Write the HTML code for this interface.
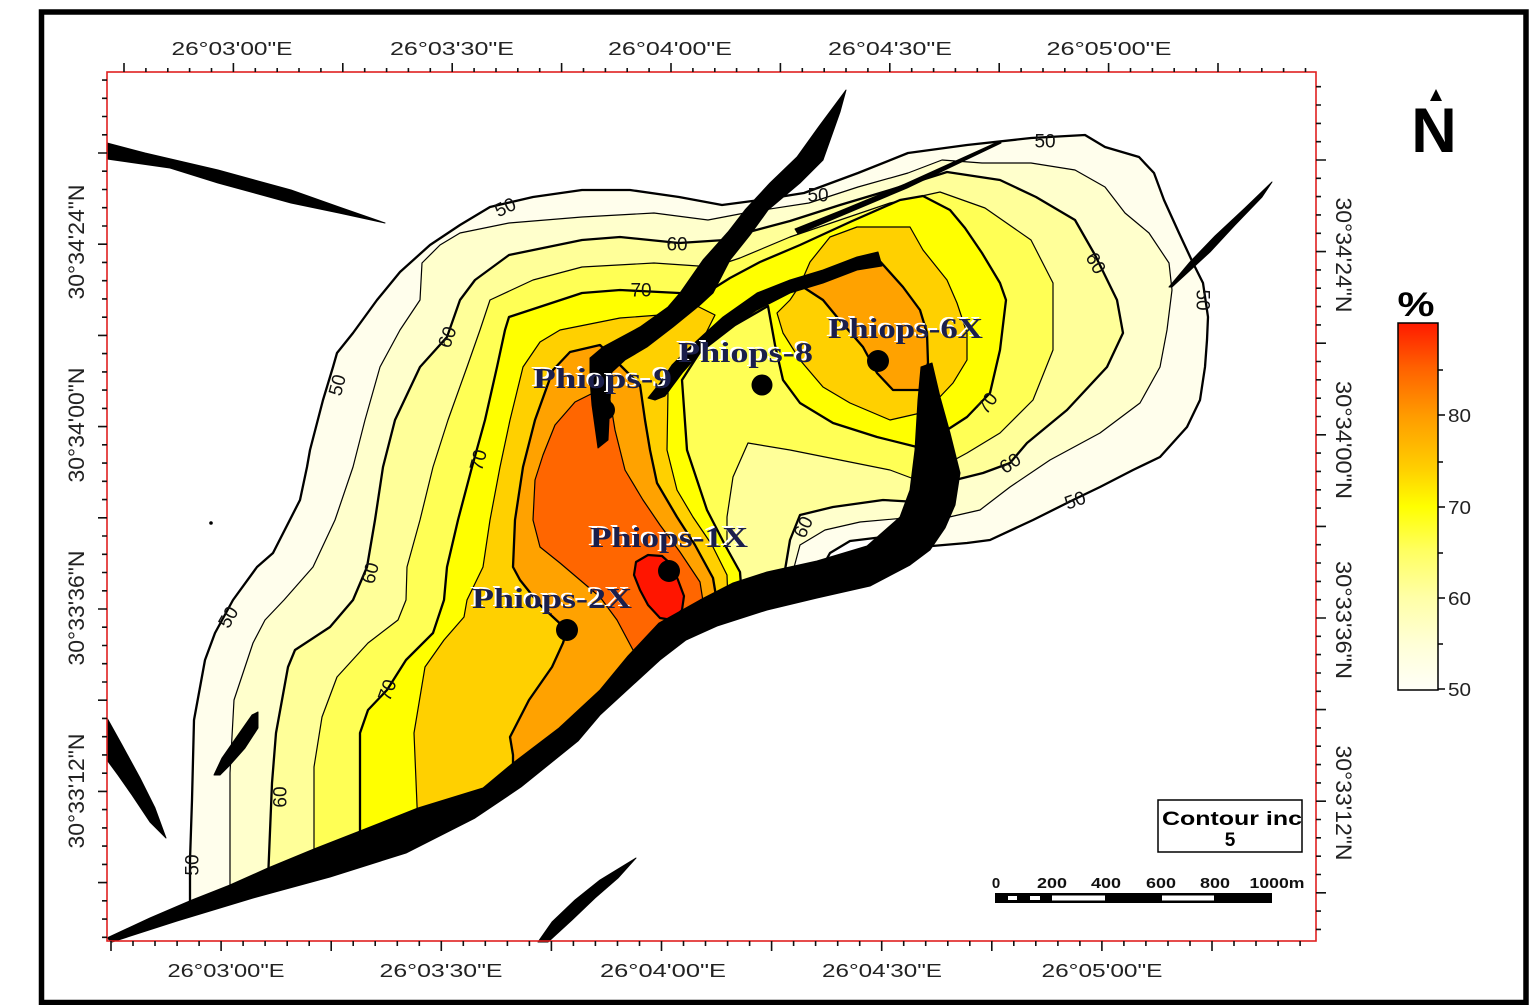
<!DOCTYPE html>
<html><head><meta charset="utf-8"><style>
html,body{margin:0;padding:0;background:#fff;}
svg{display:block;}
</style></head><body>
<svg width="1533" height="1005" viewBox="0 0 1533 1005" xmlns="http://www.w3.org/2000/svg">
<defs>
<linearGradient id="cb" x1="0" y1="0" x2="0" y2="1">
<stop offset="0" stop-color="#ff1a00"/><stop offset="0.12" stop-color="#ff6000"/><stop offset="0.25" stop-color="#ff9a00"/><stop offset="0.4" stop-color="#ffd000"/><stop offset="0.5" stop-color="#ffff00"/><stop offset="0.62" stop-color="#ffff60"/><stop offset="0.75" stop-color="#ffffa8"/><stop offset="0.88" stop-color="#ffffd8"/><stop offset="1" stop-color="#fffff8"/>
</linearGradient>
</defs>
<rect width="1533" height="1005" fill="#fff"/>
<rect x="41.5" y="12" width="1484.5" height="990.5" fill="none" stroke="#000" stroke-width="5.5"/>

<!-- contour fills -->
<g stroke="#000" stroke-linejoin="round">
<polygon fill="#fffeec" stroke-width="2.3" points="190,907 190,860 192,800 194,720 205,660 215,633 233,600 257,567 273,553 300,500 307,467 310,450 323,400 333,367 337,353 353,333 377,300 400,272 430,245 460,225 490,207 533,197 582,190 630,190 679,197 722,205 760,200 804,193 858,173 908,153 967,145 1031,138 1085,135 1105,147 1139,157 1154,173 1164,200 1179,233 1193,263 1203,283 1208,317 1207,340 1205,367 1200,400 1187,427 1160,457 1133,470 1100,487 1073,500 1033,520 990,540 967,543 932,546 935,533 883,537 850,541 830,553 818,575 815,585 785,590 760,595 735,602 710,612 690,622 665,640 645,660 620,685 595,712 570,735 540,760 510,782 475,805 430,825 390,840 340,857 290,873 250,887 215,898"/>
<polygon fill="#ffffcc" stroke-width="1.2" points="230,893 230,773 234,700 245,667 253,643 265,620 284,600 313,567 335,520 353,467 365,420 380,367 400,330 420,300 422,263 440,245 460,233 509,223 582,217 654,213 708,220 750,212 809,203 858,187 908,173 942,160 982,163 1031,163 1075,170 1105,187 1125,213 1149,233 1169,263 1172,290 1167,330 1160,367 1140,403 1100,433 1050,460 1010,487 980,510 945,518 905,518 860,522 825,530 800,545 792,575 790,589 760,595 735,602 710,612 690,622 665,640 645,660 620,685 595,712 570,735 540,760 510,782 475,805 430,825 390,840 340,857 290,873 250,887"/>
<polygon fill="#ffff99" stroke-width="2.3" points="268,880 272,783 276,733 288,667 295,650 330,627 353,600 367,567 375,520 383,467 395,420 420,367 447,337 460,300 475,280 509,255 582,240 620,237 679,243 725,240 745,233 790,221 840,205 890,190 947,172 1000,180 1036,197 1075,220 1095,255 1117,300 1123,333 1107,367 1067,410 1027,443 1010,463 983,473 955,480 935,503 883,500 833,507 800,515 790,540 785,570 783,591 760,595 735,602 710,612 690,622 665,640 645,660 620,685 595,712 570,735 540,760 510,782 475,805 430,825 390,840 340,857 290,873"/>
<polygon fill="#ffff55" stroke-width="1.2" points="314,865 314,767 322,717 337,677 368,643 398,620 406,600 407,567 420,520 433,467 448,420 467,367 480,330 490,300 533,280 582,267 654,263 713,267 740,258 790,237 840,220 890,203 940,192 985,208 1031,240 1053,283 1053,350 1033,400 1000,433 967,453 945,465 930,485 890,470 840,460 790,450 748,443 733,477 727,517 727,550 733,600 710,612 690,622 665,640 645,660 620,685 595,712 570,735 540,760 510,782 475,805 430,825 390,840 340,857"/>
<polygon fill="#ffff00" stroke-width="2.3" points="360,849 360,733 368,710 387,690 406,660 433,633 444,600 447,567 458,520 472,467 485,420 497,367 505,330 509,317 582,293 620,290 679,293 703,295 730,278 760,262 800,245 850,222 900,200 923,196 950,210 965,228 982,253 1000,283 1006,300 1000,350 990,393 967,417 947,430 925,442 917,447 877,437 833,423 800,403 783,380 775,345 768,306 735,325 700,352 682,380 687,450 707,510 725,545 740,572 742,598 735,602 710,612 690,622 665,640 645,660 620,685 595,712 570,735 540,760 510,782 475,805 430,825 390,840"/>
<polygon fill="#ffd000" stroke-width="1.2" points="418,829 414,733 425,667 444,640 464,617 467,600 483,567 490,520 500,467 510,420 523,367 540,342 560,330 620,318 660,315 695,305 715,315 700,345 668,392 667,450 677,490 693,517 712,545 727,575 728,604 710,612 690,622 665,640 645,660 620,685 595,712 570,735 540,760 510,782 475,805 430,825"/>
<polygon fill="#ffd000" stroke-width="1.2" points="777,313 790,300 800,285 810,262 830,237 857,227 910,227 923,250 947,280 957,303 967,333 967,360 953,383 937,400 925,412 890,420 850,403 823,387 800,360 783,333"/>
<polygon fill="#ffa200" stroke-width="2.3" points="513,772 513,755 510,737 529,700 552,667 563,643 567,630 540,605 520,580 513,567 515,520 523,467 535,420 553,370 570,352 600,345 625,370 640,385 645,420 650,450 657,483 677,517 695,545 713,578 718,608 710,612 690,622 665,640 645,660 620,685 595,712 570,735 540,760"/>
<polygon fill="#ffa200" stroke-width="2.3" points="800,285 820,278 850,268 877,258 903,287 920,310 927,333 928,363 920,390 893,390 877,373 863,347 837,317 823,300"/>
<polygon fill="#ff6600" stroke-width="1.2" points="638,668 633,650 617,620 600,597 580,580 560,563 540,547 533,520 535,480 543,455 555,425 575,402 595,392 610,400 615,430 625,470 643,500 660,525 680,552 700,582 705,614 690,622 665,640 645,660"/>
<polygon fill="#ff1500" stroke-width="2.2" points="636,562 648,555 662,556 672,565 678,580 684,596 682,610 672,620 660,618 648,605 640,590 634,575"/>
</g>

<!-- faults -->
<g fill="#000" stroke="#000" stroke-width="1" stroke-linejoin="round">
<polygon points="107,938 150,918 192,900 230,885 268,868 314,849 360,831 418,808 483,788 513,763 559,728 600,690 628,656 659,623 700,600 733,583 767,572 817,561 867,546 900,517 910,490 915,450 918,400 921,367 932,363 940,397 950,433 960,473 955,505 945,528 930,550 910,565 870,586 817,598 767,610 717,626 686,640 660,660 636,682 600,715 578,741 521,787 475,818 406,853 330,877 253,898 177,921 112,942"/>
<polygon points="590,358 603,347 640,327 668,307 680,293 703,260 728,232 745,210 770,183 797,157 820,125 846,90 840,112 823,160 800,183 768,210 750,235 730,260 713,293 700,305 673,327 647,347 625,360 612,372 610,400 608,440 598,448 592,405 590,380"/>
<polygon points="648,398 660,383 672,365 690,347 723,317 757,293 790,280 823,270 857,257 878,252 882,266 857,270 823,283 790,293 757,310 723,333 700,353 683,372 665,396 655,400"/>
<polygon points="795,229 840,211 905,184 1000,141 1001,143 907,188 843,215 798,234"/>
<polygon points="107,143 145,153 218,170 291,190 339,207 385,223 339,213 291,203 218,183 170,168 107,159"/>
<polygon points="1169,287 1190,262 1215,236 1245,208 1272,182 1262,197 1235,225 1210,252 1185,275 1172,287"/>
<polygon points="214,775 222,758 238,735 252,715 258,712 258,728 245,748 230,765 220,775"/>
<polygon points="107,718 122,745 140,778 155,808 166,838 150,822 132,795 118,775 107,760"/>
<polygon points="538,942 552,922 575,900 600,880 636,858 618,878 595,898 572,920 548,942"/>
</g>
<circle cx="211" cy="523" r="1.8" fill="#000"/>

<!-- wells -->
<g fill="#000">
<circle cx="605" cy="410" r="10"/>
<circle cx="762" cy="385" r="10.5"/>
<circle cx="878" cy="361" r="11"/>
<circle cx="669" cy="571" r="11"/>
<circle cx="567" cy="630" r="11"/>
</g>

<!-- contour labels -->
<g font-family="Liberation Sans, sans-serif" font-size="19" fill="#111" text-anchor="middle">
<text transform="translate(505,207) rotate(-25)" dy="0.35em">50</text>
<text transform="translate(677,244)" dy="0.35em">60</text>
<text transform="translate(641,290)" dy="0.35em">70</text>
<text transform="translate(818,195)" dy="0.35em">50</text>
<text transform="translate(1045,141)" dy="0.35em">50</text>
<text transform="translate(1096,263) rotate(60)" dy="0.35em">60</text>
<text transform="translate(1203,300) rotate(90)" dy="0.35em">50</text>
<text transform="translate(987,403) rotate(-55)" dy="0.35em">70</text>
<text transform="translate(1010,463) rotate(-35)" dy="0.35em">60</text>
<text transform="translate(1075,500) rotate(-20)" dy="0.35em">50</text>
<text transform="translate(803,527) rotate(-65)" dy="0.35em">60</text>
<text transform="translate(478,460) rotate(-75)" dy="0.35em">70</text>
<text transform="translate(447,337) rotate(-70)" dy="0.35em">60</text>
<text transform="translate(337,385) rotate(-75)" dy="0.35em">50</text>
<text transform="translate(370,573) rotate(-75)" dy="0.35em">60</text>
<text transform="translate(228,617) rotate(-60)" dy="0.35em">50</text>
<text transform="translate(387,690) rotate(-70)" dy="0.35em">70</text>
<text transform="translate(280,797) rotate(-90)" dy="0.35em">60</text>
<text transform="translate(192,865) rotate(-90)" dy="0.35em">50</text>
</g>

<!-- well labels -->
<g font-family="Liberation Serif, serif" font-weight="bold" font-size="29">
<g fill="#ffffff">
<text x="531" y="386" textLength="139" lengthAdjust="spacingAndGlyphs">Phiops-9</text>
<text x="676" y="360" textLength="135" lengthAdjust="spacingAndGlyphs">Phiops-8</text>
<text x="826" y="336" textLength="155" lengthAdjust="spacingAndGlyphs">Phiops-6X</text>
<text x="588" y="545" textLength="158" lengthAdjust="spacingAndGlyphs">Phiops-1X</text>
<text x="470" y="606" textLength="160" lengthAdjust="spacingAndGlyphs">Phiops-2X</text>
</g>
<g fill="#1b1f4b">
<text x="533" y="388" textLength="139" lengthAdjust="spacingAndGlyphs">Phiops-9</text>
<text x="678" y="362" textLength="135" lengthAdjust="spacingAndGlyphs">Phiops-8</text>
<text x="828" y="338" textLength="155" lengthAdjust="spacingAndGlyphs">Phiops-6X</text>
<text x="590" y="547" textLength="158" lengthAdjust="spacingAndGlyphs">Phiops-1X</text>
<text x="472" y="608" textLength="160" lengthAdjust="spacingAndGlyphs">Phiops-2X</text>
</g>
</g>

<!-- plot frame and ticks -->
<rect x="107" y="72" width="1209" height="869" fill="none" stroke="#e02020" stroke-width="1.6"/>
<g stroke="#111" stroke-width="1.6">
<path d="M124 63V72M233.4 63V72M342.8 63V72M452.2 63V72M561.6 63V72M671 63V72M780.4 63V72M889.8 63V72M999.2 63V72M1108.6 63V72M1218 63V72"/>
<path d="M145.9 68V72M167.8 68V72M189.6 68V72M211.5 68V72M255.3 68V72M277.2 68V72M299 68V72M320.9 68V72M364.7 68V72M386.6 68V72M408.4 68V72M430.3 68V72M474.1 68V72M496 68V72M517.8 68V72M539.7 68V72M583.5 68V72M605.4 68V72M627.2 68V72M649.1 68V72M692.9 68V72M714.8 68V72M736.6 68V72M758.5 68V72M802.3 68V72M824.2 68V72M846 68V72M867.9 68V72M911.7 68V72M933.6 68V72M955.4 68V72M977.3 68V72M1021.1 68V72M1043 68V72M1064.8 68V72M1086.7 68V72M1130.5 68V72M1152.4 68V72M1174.2 68V72M1196.1 68V72M1239.9 68V72M1261.8 68V72M1283.6 68V72M1305.5 68V72"/>
<path d="M111 941V951M221.1 941V951M331.2 941V951M441.3 941V951M551.4 941V951M661.5 941V951M771.6 941V951M881.7 941V951M991.8 941V951M1101.9 941V951M1212 941V951"/>
<path d="M133 941V946M155 941V946M177.1 941V946M199.1 941V946M243.1 941V946M265.1 941V946M287.2 941V946M309.2 941V946M353.2 941V946M375.2 941V946M397.3 941V946M419.3 941V946M463.3 941V946M485.3 941V946M507.4 941V946M529.4 941V946M573.4 941V946M595.4 941V946M617.5 941V946M639.5 941V946M683.5 941V946M705.5 941V946M727.6 941V946M749.6 941V946M793.6 941V946M815.6 941V946M837.7 941V946M859.7 941V946M903.7 941V946M925.7 941V946M947.8 941V946M969.8 941V946M1013.8 941V946M1035.8 941V946M1057.9 941V946M1079.9 941V946M1123.9 941V946M1145.9 941V946M1168 941V946M1190 941V946M1234 941V946M1256 941V946M1278.1 941V946M1300.1 941V946"/>
<path d="M98 153H107M98 244.2H107M98 335.4H107M98 426.6H107M98 517.8H107M98 609H107M98 700.2H107M98 791.4H107M98 882.6H107"/>
<path d="M102 80.1H107M102 98.3H107M102 116.5H107M102 134.8H107M102 171.2H107M102 189.5H107M102 207.7H107M102 226H107M102 262.4H107M102 280.7H107M102 298.9H107M102 317.2H107M102 353.6H107M102 371.9H107M102 390.1H107M102 408.4H107M102 444.8H107M102 463.1H107M102 481.3H107M102 499.6H107M102 536H107M102 554.3H107M102 572.5H107M102 590.8H107M102 627.2H107M102 645.5H107M102 663.7H107M102 682H107M102 718.4H107M102 736.7H107M102 754.9H107M102 773.2H107M102 809.6H107M102 827.9H107M102 846.1H107M102 864.4H107M102 900.8H107M102 919.1H107M102 937.3H107"/>
<path d="M1316 160H1326M1316 251.6H1326M1316 343.2H1326M1316 434.8H1326M1316 526.4H1326M1316 618H1326M1316 709.6H1326M1316 801.2H1326M1316 892.8H1326"/>
<path d="M1316 86.7H1321M1316 105H1321M1316 123.4H1321M1316 141.7H1321M1316 178.3H1321M1316 196.6H1321M1316 214.9H1321M1316 233.3H1321M1316 269.9H1321M1316 288.2H1321M1316 306.6H1321M1316 324.9H1321M1316 361.5H1321M1316 379.8H1321M1316 398.2H1321M1316 416.5H1321M1316 453.1H1321M1316 471.4H1321M1316 489.8H1321M1316 508.1H1321M1316 544.7H1321M1316 563H1321M1316 581.4H1321M1316 599.7H1321M1316 636.3H1321M1316 654.6H1321M1316 673H1321M1316 691.3H1321M1316 727.9H1321M1316 746.2H1321M1316 764.6H1321M1316 782.9H1321M1316 819.5H1321M1316 837.8H1321M1316 856.2H1321M1316 874.5H1321M1316 911.1H1321M1316 929.4H1321"/>
</g>

<!-- axis labels -->
<g font-family="Liberation Sans, sans-serif" font-size="18" fill="#222" text-anchor="middle">
<text x="232" y="55" textLength="121" lengthAdjust="spacingAndGlyphs">26°03'00"E</text>
<text x="452" y="55" textLength="124" lengthAdjust="spacingAndGlyphs">26°03'30"E</text>
<text x="670" y="55" textLength="124" lengthAdjust="spacingAndGlyphs">26°04'00"E</text>
<text x="890" y="55" textLength="124" lengthAdjust="spacingAndGlyphs">26°04'30"E</text>
<text x="1109" y="55" textLength="125" lengthAdjust="spacingAndGlyphs">26°05'00"E</text>
<text x="226" y="977" textLength="117" lengthAdjust="spacingAndGlyphs">26°03'00"E</text>
<text x="441" y="977" textLength="123" lengthAdjust="spacingAndGlyphs">26°03'30"E</text>
<text x="663" y="977" textLength="126" lengthAdjust="spacingAndGlyphs">26°04'00"E</text>
<text x="882" y="977" textLength="120" lengthAdjust="spacingAndGlyphs">26°04'30"E</text>
<text x="1102" y="977" textLength="121" lengthAdjust="spacingAndGlyphs">26°05'00"E</text>
</g>
<g font-family="Liberation Sans, sans-serif" font-size="22" fill="#222" text-anchor="middle">
<text transform="translate(84,242) rotate(-90)" textLength="115" lengthAdjust="spacingAndGlyphs">30°34'24"N</text>
<text transform="translate(84,425) rotate(-90)" textLength="115" lengthAdjust="spacingAndGlyphs">30°34'00"N</text>
<text transform="translate(84,608) rotate(-90)" textLength="115" lengthAdjust="spacingAndGlyphs">30°33'36"N</text>
<text transform="translate(84,791) rotate(-90)" textLength="115" lengthAdjust="spacingAndGlyphs">30°33'12"N</text>
<text transform="translate(1336,255) rotate(90)" textLength="115" lengthAdjust="spacingAndGlyphs">30°34'24"N</text>
<text transform="translate(1336,440) rotate(90)" textLength="118" lengthAdjust="spacingAndGlyphs">30°34'00"N</text>
<text transform="translate(1336,620) rotate(90)" textLength="118" lengthAdjust="spacingAndGlyphs">30°33'36"N</text>
<text transform="translate(1336,803) rotate(90)" textLength="115" lengthAdjust="spacingAndGlyphs">30°33'12"N</text>
</g>

<!-- north arrow -->
<polygon points="1436,89 1430,101 1442,101" fill="#000"/>
<text x="1434" y="152" font-family="Liberation Sans, sans-serif" font-weight="bold" font-size="63" text-anchor="middle" fill="#000">N</text>

<!-- colorbar -->
<text x="1416" y="316" font-family="Liberation Sans, sans-serif" font-weight="bold" font-size="34" text-anchor="middle" fill="#000" textLength="37" lengthAdjust="spacingAndGlyphs">%</text>
<rect x="1398" y="323" width="40" height="367" fill="url(#cb)" stroke="#000" stroke-width="1.5"/>
<g stroke="#000" stroke-width="1.5">
<path d="M1438 370H1443M1438 415H1445M1438 462H1443M1438 507H1445M1438 553H1443M1438 598H1445M1438 644H1443M1438 689H1445"/>
</g>
<g font-family="Liberation Sans, sans-serif" font-size="18" fill="#222">
<text x="1448" y="422" textLength="23" lengthAdjust="spacingAndGlyphs">80</text>
<text x="1448" y="514" textLength="23" lengthAdjust="spacingAndGlyphs">70</text>
<text x="1448" y="605" textLength="23" lengthAdjust="spacingAndGlyphs">60</text>
<text x="1448" y="696" textLength="23" lengthAdjust="spacingAndGlyphs">50</text>
</g>

<!-- contour inc box -->
<rect x="1158" y="800" width="144" height="52" fill="#fff" stroke="#000" stroke-width="1.5"/>
<text x="1162" y="825" font-family="Liberation Sans, sans-serif" font-weight="bold" font-size="19" fill="#000" textLength="140" lengthAdjust="spacingAndGlyphs">Contour inc</text>
<text x="1230" y="846" font-family="Liberation Sans, sans-serif" font-weight="bold" font-size="19" fill="#000" text-anchor="middle">5</text>

<!-- scale bar -->
<g font-family="Liberation Sans, sans-serif" font-weight="bold" font-size="15" fill="#111" text-anchor="middle">
<text x="996" y="888">0</text>
<text x="1052" y="888" textLength="30" lengthAdjust="spacingAndGlyphs">200</text>
<text x="1106" y="888" textLength="30" lengthAdjust="spacingAndGlyphs">400</text>
<text x="1161" y="888" textLength="30" lengthAdjust="spacingAndGlyphs">600</text>
<text x="1215" y="888" textLength="30" lengthAdjust="spacingAndGlyphs">800</text>
<text x="1277" y="888" textLength="55" lengthAdjust="spacingAndGlyphs">1000m</text>
</g>
<rect x="995" y="893" width="277" height="10" fill="#000"/>
<rect x="1052" y="895.5" width="53" height="5" fill="#fff"/>
<rect x="1162" y="895.5" width="52" height="5" fill="#fff"/>
<rect x="1008" y="896" width="9" height="4" fill="#fff"/>
<rect x="1030" y="896" width="10" height="4" fill="#fff"/>
</svg>
</body></html>
